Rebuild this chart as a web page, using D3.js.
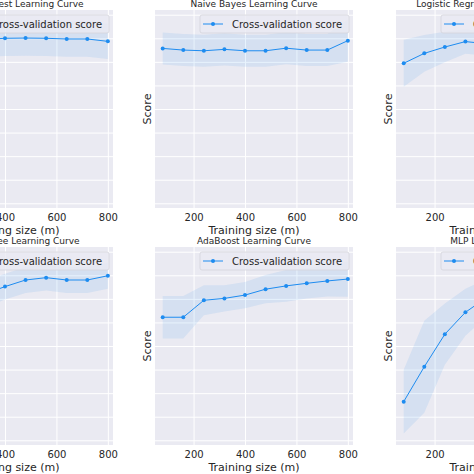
<!DOCTYPE html>
<html>
<head>
<meta charset="utf-8">
<script src="https://cdn.jsdelivr.net/npm/d3@7"></script>
<style>
  body { margin: 0; background: #ffffff; }
  svg { display: block; font-family: "DejaVu Sans", sans-serif; }
</style>
</head>
<body>
<script>
// Training sizes (m), shared by all six learning curves
var trainSizes = [80, 160, 240, 320, 400, 480, 560, 640, 720, 800];
var xTicks = [200, 400, 600, 800];
var yTicks = [0.2, 0.3, 0.4, 0.5, 0.6, 0.7, 0.8, 0.9, 1.0];

// Mean cross-validation score and its std for each model
var rfMean = [0.870, 0.885, 0.890, 0.895, 0.900, 0.901, 0.900, 0.897, 0.897, 0.887];
var rfStd = [0.080, 0.078, 0.076, 0.075, 0.075, 0.075, 0.075, 0.075, 0.075, 0.075];
var nbMean = [0.857, 0.850, 0.847, 0.853, 0.847, 0.847, 0.858, 0.850, 0.850, 0.890];
var nbStd = [0.068, 0.068, 0.068, 0.068, 0.068, 0.068, 0.068, 0.068, 0.068, 0.090];
var lrMean = [0.794, 0.836, 0.863, 0.886, 0.877, 0.890, 0.893, 0.895, 0.896, 0.898];
var lrStd = [0.100, 0.078, 0.065, 0.052, 0.050, 0.048, 0.048, 0.046, 0.045, 0.045];
var dtMean = [0.760, 0.790, 0.810, 0.820, 0.852, 0.880, 0.890, 0.880, 0.880, 0.898];
var dtStd = [0.060, 0.058, 0.056, 0.055, 0.055, 0.055, 0.055, 0.055, 0.055, 0.055];
var abMean = [0.722, 0.722, 0.794, 0.802, 0.816, 0.841, 0.855, 0.866, 0.876, 0.884];
var abStd = [0.090, 0.090, 0.064, 0.056, 0.056, 0.060, 0.067, 0.064, 0.066, 0.075];
var mlpMean = [0.364, 0.512, 0.650, 0.743, 0.804, 0.840, 0.860, 0.875, 0.885, 0.890];
var mlpStd = [0.135, 0.195, 0.130, 0.100, 0.080, 0.070, 0.060, 0.050, 0.050, 0.050];

var titles = [
  "Random Forest Learning Curve",
  "Naive Bayes Learning Curve",
  "Logistic Regression Learning Curve",
  "Decision Tree Learning Curve",
  "AdaBoost Learning Curve",
  "MLP Learning Curve"
];
var means = [rfMean, nbMean, lrMean, dtMean, abMean, mlpMean];
var stds = [rfStd, nbStd, lrStd, dtStd, abStd, mlpStd];

var color = "#1e8cf0";
var textColor = "#262626";

// layout of the (cropped) 2x3 grid
var pw = 198, ph = 198;
var colLeft = [-85, 155, 396];
var rowTop = [10, 247];

var svg = d3
  .select("body")
  .append("svg")
  .attr("width", 474)
  .attr("height", 474);

var x = d3.scaleLinear().domain([50, 820]).range([0, pw]);
var y = d3.scaleLinear().domain([0.18, 1.02]).range([ph, 0]);

svg
  .append("clipPath")
  .attr("id", "plotclip")
  .append("rect")
  .attr("width", pw)
  .attr("height", ph);

titles.forEach(function (title, i) {
  var g = svg
    .append("g")
    .attr("transform", "translate(" + colLeft[i % 3] + "," + rowTop[Math.floor(i / 3)] + ")");

  var data = trainSizes.map(function (s, j) {
    return { size: s, mean: means[i][j], std: stds[i][j] };
  });

  // Plot background
  g.append("rect").attr("width", pw).attr("height", ph).attr("fill", "#eaeaf2");

  // Grid + x tick labels
  var xAxis = g
    .append("g")
    .attr("transform", "translate(0," + ph + ")")
    .call(d3.axisBottom(x).tickValues(xTicks).tickSize(-ph).tickPadding(5.5));
  xAxis.select(".domain").remove();
  xAxis.selectAll("line").attr("stroke", "#ffffff").attr("stroke-width", 1);
  xAxis
    .selectAll("text")
    .attr("fill", textColor)
    .style("font-size", "10px")
    .style("font-family", "DejaVu Sans");

  var yAxis = g
    .append("g")
    .call(d3.axisLeft(y).tickValues(yTicks).tickSize(-pw).tickFormat(""));
  yAxis.select(".domain").remove();
  yAxis.selectAll("line").attr("stroke", "#ffffff").attr("stroke-width", 1);

  var plot = g.append("g").attr("clip-path", "url(#plotclip)");

  // std band
  plot
    .append("path")
    .datum(data)
    .attr("fill", color)
    .attr("fill-opacity", 0.1)
    .attr(
      "d",
      d3
        .area()
        .x(function (d) { return x(d.size); })
        .y0(function (d) { return y(d.mean - d.std); })
        .y1(function (d) { return y(d.mean + d.std); })
    );

  // mean score line
  plot
    .append("path")
    .datum(data)
    .attr("fill", "none")
    .attr("stroke", color)
    .attr("stroke-width", 1)
    .attr(
      "d",
      d3
        .line()
        .x(function (d) { return x(d.size); })
        .y(function (d) { return y(d.mean); })
    );

  plot
    .selectAll("circle")
    .data(data)
    .enter()
    .append("circle")
    .attr("cx", function (d) { return x(d.size); })
    .attr("cy", function (d) { return y(d.mean); })
    .attr("r", 2)
    .attr("fill", color);

  // Legend
  var lg = g.append("g").attr("transform", "translate(" + (pw - 4 - 149) + ",5)");
  lg.append("rect")
    .attr("width", 149)
    .attr("height", 18)
    .attr("rx", 2)
    .attr("fill", "#eaeaf2")
    .attr("fill-opacity", 0.8)
    .attr("stroke", "#d4d4dc")
    .attr("stroke-width", 0.8);
  lg.append("line")
    .attr("x1", 3)
    .attr("x2", 23)
    .attr("y1", 9)
    .attr("y2", 9)
    .attr("stroke", color)
    .attr("stroke-width", 1);
  lg.append("circle").attr("cx", 13).attr("cy", 9).attr("r", 2).attr("fill", color);
  lg.append("text")
    .attr("x", 32)
    .attr("y", 9)
    .attr("dy", "0.35em")
    .attr("fill", textColor)
    .style("font-size", "10px")
    .text("Cross-validation score");

  // Titles and axis labels
  g.append("text")
    .attr("x", pw / 2)
    .attr("y", -3)
    .attr("text-anchor", "middle")
    .attr("fill", textColor)
    .style("font-size", "9px")
    .text(title);

  g.append("text")
    .attr("x", pw / 2)
    .attr("y", ph + 26)
    .attr("text-anchor", "middle")
    .attr("fill", textColor)
    .style("font-size", "11px")
    .text("Training size (m)");

  g.append("text")
    .attr("transform", "translate(-4," + ph / 2 + ") rotate(-90)")
    .attr("text-anchor", "middle")
    .attr("fill", textColor)
    .style("font-size", "11px")
    .text("Score");
});
</script>
</body>
</html>
